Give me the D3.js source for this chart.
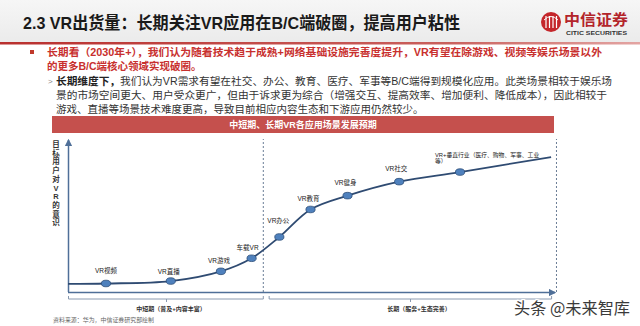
<!DOCTYPE html>
<html>
<head>
<meta charset="utf-8">
<script src="https://cdn.jsdelivr.net/npm/d3@7/dist/d3.min.js"></script>
<style>
  html, body { margin: 0; padding: 0; background: #fff; }
  svg { display: block; }
  text { font-family: "Liberation Sans", Arial, "Noto Sans CJK SC", sans-serif; }
</style>
</head>
<body>
<svg id="page" width="640" height="326"></svg>
<script>
// ---- content ----
const pageTitle = "2.3 VR出货量：长期关注VR应用在B/C端破圈，提高用户粘性";
const bulletLines = [
  "长期看（2030年+），我们认为随着技术趋于成熟+网络基础设施完善度提升，VR有望在除游戏、视频等娱乐场景以外",
  "的更多B/C端核心领域实现破圈。"
];
const subLead = "长期维度下，";
const subLines = [
  "我们认为VR需求有望在社交、办公、教育、医疗、军事等B/C端得到规模化应用。此类场景相较于娱乐场",
  "景的市场空间更大、用户受众更广，但由于诉求更为综合（增强交互、提高效率、增加便利、降低成本），因此相较于",
  "游戏、直播等场景技术难度更高，导致目前相应内容生态和下游应用仍然较少。"
];
const chartTitle = "中短期、长期VR各应用场景发展预期";
const yAxisLabel = "目标用户对VR的意识";
const sourceNote = "资料来源：华为，中信证券研究部绘制";

// ---- data: application scenarios along the adoption curve ----
const stages = ["VR视频", "VR直播", "VR游戏", "车载VR", "VR办公", "VR教育", "VR健身", "VR社交", "VR+垂直行业（医疗、购物、军事、工业等）"];
const stageTime = [7.8, 21.1, 31.4, 37.7, 43.4, 49.8, 57.4, 68.0, 80.5];
const stageAwareness = [5.6, 7.2, 13.6, 22.2, 36.2, 54.3, 63.4, 72.6, 78.9];
const curveStart = [0, 5.3];
const curveEnd = [99.2, 88.8];
const phaseNames = ["中短期（普及+内容丰富）", "长期（服务+生态完善）"];
const phaseFrom = [0, 41.2];
const phaseTo = [40, 99.2];
const phaseBoundaries = [40, 100.2];

const svg = d3.select("#page");
const defs = svg.append("defs");

// ---- slide header ----
const hg = defs.append("linearGradient").attr("id", "hdr").attr("x1", 0).attr("y1", 0).attr("x2", 0).attr("y2", 1);
hg.append("stop").attr("offset", "0%").attr("stop-color", "#f6f6f6");
hg.append("stop").attr("offset", "100%").attr("stop-color", "#ebebeb");
svg.append("rect").attr("x", 0).attr("y", 0).attr("width", 640).attr("height", 42).attr("fill", "url(#hdr)");
const rg = defs.append("linearGradient").attr("id", "rule").attr("x1", 0).attr("y1", 0).attr("x2", 1).attr("y2", 0);
rg.append("stop").attr("offset", "0%").attr("stop-color", "#b9302e");
rg.append("stop").attr("offset", "70%").attr("stop-color", "#c9605d");
rg.append("stop").attr("offset", "100%").attr("stop-color", "#e3a5a3");
svg.append("rect").attr("x", 0).attr("y", 42).attr("width", 640).attr("height", 2.5).attr("fill", "url(#rule)");

svg.append("text").attr("x", 23).attr("y", 28.5)
  .attr("font-size", 17).attr("font-weight", "bold").attr("fill", "#1a1a1a")
  .attr("textLength", 437).attr("lengthAdjust", "spacingAndGlyphs")
  .text(pageTitle);

// company mark
const logo = svg.append("g").attr("transform", "translate(551,22)");
logo.append("circle").attr("r", 10).attr("fill", "#c4262b");
[-5, -1.5, 2, 5.5].forEach(dx => {
  logo.append("line").attr("x1", dx).attr("x2", dx).attr("y1", -6).attr("y2", 6)
    .attr("stroke", "#fff").attr("stroke-width", 1.2);
});
logo.append("path").attr("d", "M-7,-2 Q0,-9 7,-2").attr("fill", "none").attr("stroke", "#fff").attr("stroke-width", 1);
svg.append("text").attr("x", 564).attr("y", 25).attr("font-size", 15).attr("font-weight", "bold")
  .attr("fill", "#b3242a").attr("textLength", 64).attr("lengthAdjust", "spacingAndGlyphs")
  .style("font-family", "'Noto Sans CJK SC'").text("中信证券");
svg.append("text").attr("x", 566).attr("y", 35).attr("font-size", 6).attr("font-weight", "bold")
  .attr("fill", "#333").attr("textLength", 61).attr("lengthAdjust", "spacingAndGlyphs")
  .text("CITIC SECURITIES");

// ---- body text ----
svg.append("rect").attr("x", 30).attr("y", 50).attr("width", 4).attr("height", 4).attr("fill", "#c0392b");
svg.append("text").attr("x", 47).attr("y", 56).attr("font-size", 10.5).attr("font-weight", "bold")
  .attr("fill", "#c8302e").attr("textLength", 555).attr("lengthAdjust", "spacingAndGlyphs").text(bulletLines[0]);
svg.append("text").attr("x", 47).attr("y", 70).attr("font-size", 10.5).attr("font-weight", "bold")
  .attr("fill", "#c8302e").text(bulletLines[1]);

svg.append("text").attr("x", 48).attr("y", 84).attr("font-size", 8).attr("fill", "#888").text(">");
const s1 = svg.append("text").attr("x", 56).attr("y", 84.5).attr("font-size", 10.5).attr("fill", "#333")
  .attr("textLength", 556).attr("lengthAdjust", "spacingAndGlyphs");
s1.append("tspan").attr("font-weight", "bold").attr("fill", "#222").text(subLead);
s1.append("tspan").text(subLines[0]);
svg.append("text").attr("x", 56).attr("y", 99).attr("font-size", 10.5).attr("fill", "#333")
  .attr("textLength", 551).attr("lengthAdjust", "spacingAndGlyphs").text(subLines[1]);
svg.append("text").attr("x", 56).attr("y", 113).attr("font-size", 10.5).attr("fill", "#333").text(subLines[2]);

// ---- chart banner ----
svg.append("rect").attr("x", 52).attr("y", 116).attr("width", 502).attr("height", 17).attr("fill", "#c5504d");
svg.append("text").attr("x", 303).attr("y", 128).attr("text-anchor", "middle").attr("font-size", 9)
  .attr("font-weight", "bold").attr("fill", "#fff").text(chartTitle);

// ---- scales ----
const x = d3.scaleLinear().domain([0, 100]).range([68, 555]);
const y = d3.scaleLinear().domain([0, 100]).range([292, 140]);

const axisColor = "#4f6f98";
defs.append("marker").attr("id", "arrow").attr("viewBox", "0 0 6 6").attr("refX", 5).attr("refY", 3)
  .attr("markerWidth", 5).attr("markerHeight", 5).attr("orient", "auto")
  .append("path").attr("d", "M0,0 L6,3 L0,6 Z").attr("fill", axisColor);

// phase dividers
svg.selectAll("line.phase").data(phaseBoundaries).join("line").attr("class", "phase")
  .attr("x1", d => x(d) + 0.5).attr("x2", d => x(d) + 0.5)
  .attr("y1", y(0)).attr("y2", y(100) - 1)
  .attr("stroke", "#6a7d96").attr("stroke-width", 1).attr("stroke-dasharray", "2,2");

// axes as lines with arrowheads
svg.append("line").attr("x1", x(0) + 0.5).attr("x2", x(0) + 0.5).attr("y1", y(0)).attr("y2", y(100))
  .attr("stroke", axisColor).attr("stroke-width", 1.5).attr("marker-end", "url(#arrow)");
svg.append("line").attr("x1", x(0)).attr("x2", x(100)).attr("y1", y(0) + 0.5).attr("y2", y(0) + 0.5)
  .attr("stroke", axisColor).attr("stroke-width", 1.5).attr("marker-end", "url(#arrow)");

// y-axis caption, one glyph per row
const yl = svg.append("text").attr("font-size", 7.5).attr("font-weight", "bold").attr("fill", "#333")
  .attr("text-anchor", "middle");
Array.from(yAxisLabel).forEach((ch, i) => {
  yl.append("tspan").attr("x", 56).attr("y", 147 + i * 8.7).text(ch);
});

// phase brackets and captions
const phases = phaseNames.map((n, i) => ({ name: n, from: phaseFrom[i], to: phaseTo[i] }));
const br = svg.selectAll("g.bracket").data(phases).join("g").attr("class", "bracket");
br.append("path")
  .attr("d", d => {
    const a = x(d.from) + 0.5, b = x(d.to) + 0.5, m = Math.round((a + b) / 2) + 0.5;
    return `M${a},296 V299 H${b} V296 M${m},299 V302`;
  })
  .attr("fill", "none").attr("stroke", "#8a9ab0").attr("stroke-width", 1);
const captionX = [171, 419];
br.append("text").attr("x", (d, i) => captionX[i]).attr("y", 310.5).attr("text-anchor", "middle")
  .attr("font-size", 6).attr("font-weight", "bold").attr("fill", "#333").text(d => d.name);

// ---- adoption curve ----
const pts = [curveStart].concat(stageTime.map((t, i) => [t, stageAwareness[i]]), [curveEnd]);
const line = d3.line().x(d => x(d[0])).y(d => y(d[1])).curve(d3.curveCatmullRom.alpha(0.5));
svg.append("path").attr("d", line(pts)).attr("fill", "none")
  .attr("stroke", "#2f4b72").attr("stroke-width", 1.8);

const nodes = stages.map((s, i) => ({ name: s, t: stageTime[i], v: stageAwareness[i] }));
svg.selectAll("ellipse.node").data(nodes).join("ellipse").attr("class", "node")
  .attr("cx", d => x(d.t)).attr("cy", d => y(d.v)).attr("rx", 4.6).attr("ry", 3.3)
  .attr("fill", "#4f81bd").attr("stroke", "#2c4d77").attr("stroke-width", 0.8);

// scenario captions
const labelDx = [0, -2, -2, -4, -1, -2, -2, -3, 0];
const labelDy = [-10, -7, -8, -8, -14, -8, -10.5, -11, 0];
svg.selectAll("text.stage").data(nodes.slice(0, 8)).join("text").attr("class", "stage")
  .attr("x", (d, i) => x(d.t) + labelDx[i]).attr("y", (d, i) => y(d.v) + labelDy[i])
  .attr("text-anchor", "middle").attr("font-size", 6.5).attr("fill", "#222").text(d => d.name);
const last = nodes[8];
const lastParts = [last.name.slice(0, last.name.length - 2), last.name.slice(-2)];
const lt = svg.append("text").attr("font-size", 5.8).attr("fill", "#222");
lastParts.forEach((p, i) => {
  lt.append("tspan").attr("x", 435).attr("y", 156.5 + i * 6.3).text(p);
});

// ---- footer ----
svg.append("text").attr("x", 53).attr("y", 322).attr("font-size", 6).attr("fill", "#666")
  .attr("textLength", 101).attr("lengthAdjust", "spacingAndGlyphs").text(sourceNote);

svg.append("text").attr("x", 514).attr("y", 314).attr("font-size", 16)
  .attr("fill", "#3a3a3a").attr("stroke", "#fff").attr("stroke-width", 2.5).attr("paint-order", "stroke")
  .attr("textLength", 116).attr("lengthAdjust", "spacingAndGlyphs")
  .style("font-family", "'Noto Sans CJK SC'").text("头条 @未来智库");
</script>
</body>
</html>
